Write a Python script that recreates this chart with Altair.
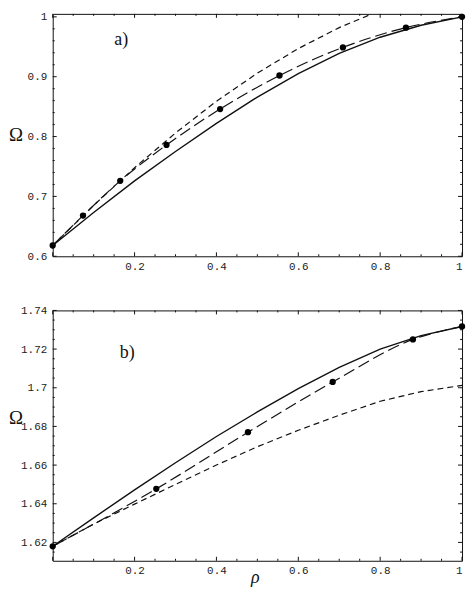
import altair as alt
import pandas as pd

# ---------------- data ----------------
# panel a)
a_rho = [0.0, 0.1, 0.2, 0.3, 0.4, 0.5, 0.6, 0.7, 0.8, 0.9, 1.0]
a_solid = [0.618, 0.673, 0.726, 0.775, 0.822, 0.866, 0.905, 0.939, 0.966, 0.986, 1.0]
a_short_rho = [0.0, 0.1, 0.2, 0.3, 0.4, 0.5, 0.6, 0.7, 0.78]
a_short = [0.618, 0.685, 0.748, 0.806, 0.859, 0.906, 0.947, 0.982, 1.005]
a_dot_rho = [0.0, 0.074, 0.165, 0.278, 0.409, 0.554, 0.709, 0.863, 1.0]
a_dot = [0.618, 0.668, 0.726, 0.786, 0.846, 0.902, 0.949, 0.982, 1.0]

# panel b)
b_rho = [0.0, 0.1, 0.2, 0.3, 0.4, 0.5, 0.6, 0.7, 0.8, 0.9, 1.0]
b_solid = [1.618, 1.6327, 1.6472, 1.6612, 1.6748, 1.6875, 1.6995, 1.7105, 1.7200, 1.7270, 1.7317]
b_short = [1.618, 1.6295, 1.6398, 1.6500, 1.6600, 1.6695, 1.6780, 1.6858, 1.6930, 1.6980, 1.7012]
b_dot_rho = [0.0, 0.253, 0.477, 0.684, 0.880, 1.0]
b_dot = [1.618, 1.6477, 1.677, 1.703, 1.725, 1.7317]

# tick positions / labels
x_major = [0.0, 0.2, 0.4, 0.6, 0.8, 1.0]
x_labels = [0.2, 0.4, 0.6, 0.8, 1.0]
x_minor = [round(i * 0.05, 2) for i in range(21) if i % 4]
a_y_major = [0.6, 0.7, 0.8, 0.9, 1.0]
a_y_minor = [round(0.6 + i * 0.02, 2) for i in range(21) if i % 5]
b_y_major = [1.62, 1.64, 1.66, 1.68, 1.70, 1.72, 1.74]
b_y_minor = [round(1.615 + i * 0.005, 3) for i in range(26) if (i - 1) % 4]

MONO = "Liberation Mono"
SERIF = "Liberation Serif"
INK = "#111111"


def text_layer(s, x, y, size, style="normal", baseline="middle"):
    return alt.Chart(pd.DataFrame({"t": [s]})).mark_text(
        font=SERIF, fontSize=size, fontStyle=style, align="center",
        baseline=baseline, color=INK
    ).encode(text="t:N", x=alt.value(x), y=alt.value(y))


def panel(rho, solid, short_rho, short, dot_rho, dot, ydom, ymaj, ymin,
          W, H, om_x, om_y, label, lab_x, lab_y, with_rho):
    xsc = alt.Scale(domain=[0, 1], nice=False, zero=False)
    ysc = alt.Scale(domain=ydom, nice=False, zero=False)

    xaxis = alt.Axis(values=x_labels, format="~g", ticks=False, domain=False,
                     grid=False, labelFont=MONO, labelFontSize=11,
                     labelColor="#222222", labelPadding=4, labelFlush=True,
                     labelOverlap=False, title=None)
    yaxis = alt.Axis(values=ymaj, format="~g", ticks=False, domain=False,
                     grid=False, labelFont=MONO, labelFontSize=11,
                     labelColor="#222222", labelPadding=6, labelFlush=False,
                     labelOverlap=False, title=None)

    def X(f):
        return alt.X(f, scale=xsc, axis=xaxis)

    def Y(f):
        return alt.Y(f, scale=ysc, axis=yaxis)

    df_line = pd.DataFrame({"rho": rho, "om": solid})
    df_short = pd.DataFrame({"rho": short_rho, "om": short})
    df_dot = pd.DataFrame({"rho": dot_rho, "om": dot})

    solid_l = alt.Chart(df_line).mark_line(color=INK, strokeWidth=1.4).encode(
        x=X("rho:Q"), y=Y("om:Q"))
    short_l = alt.Chart(df_short).mark_line(color=INK, strokeWidth=1.2,
                                             strokeDash=[6, 4]).encode(
        x=X("rho:Q"), y=Y("om:Q"))
    long_l = alt.Chart(df_dot).mark_line(color=INK, strokeWidth=1.2,
                                          strokeDash=[12, 5],
                                          interpolate="monotone").encode(
        x=X("rho:Q"), y=Y("om:Q"))
    dots = alt.Chart(df_dot).mark_circle(color="black", size=40, opacity=1).encode(
        x=X("rho:Q"), y=Y("om:Q"))

    layers = [solid_l, short_l, long_l, dots]

    # inward frame ticks on all four sides
    for vals, L in ((x_major, 4), (x_minor, 2)):
        d = pd.DataFrame({"rho": vals})
        r = alt.Chart(d).mark_rule(color=INK, strokeWidth=1)
        layers.append(r.encode(x=X("rho:Q"), y=alt.value(0), y2=alt.value(L)))
        layers.append(r.encode(x=X("rho:Q"), y=alt.value(H), y2=alt.value(H - L)))
    for vals, L in ((ymaj, 4), (ymin, 2)):
        d = pd.DataFrame({"om": vals})
        r = alt.Chart(d).mark_rule(color=INK, strokeWidth=1)
        layers.append(r.encode(y=Y("om:Q"), x=alt.value(0), x2=alt.value(L)))
        layers.append(r.encode(y=Y("om:Q"), x=alt.value(W), x2=alt.value(W - L)))

    layers.append(text_layer(label, lab_x, lab_y, 18, baseline="alphabetic"))
    layers.append(text_layer("Ω", om_x, om_y, 19))
    if with_rho:
        layers.append(text_layer("ρ", 204, H + 17, 18, style="italic"))

    return alt.layer(*layers).properties(width=W, height=H)


pa = panel(a_rho, a_solid, a_short_rho, a_short, a_dot_rho, a_dot,
           [0.6, 1.005], a_y_major, a_y_minor,
           412, 244, -37, 122, "a)", 69, 31, False)
pb = panel(b_rho, b_solid, b_rho, b_short, b_dot_rho, b_dot,
           [1.6105, 1.74], b_y_major, b_y_minor,
           412, 252, -37, 108, "b)", 75, 48, True)

chart = alt.vconcat(pa, pb, spacing=31.5).properties(
    padding=0, background="white"
).configure_view(stroke=INK, strokeWidth=1)

chart.save("out.html", embed_options={"renderer": "svg", "actions": False})
